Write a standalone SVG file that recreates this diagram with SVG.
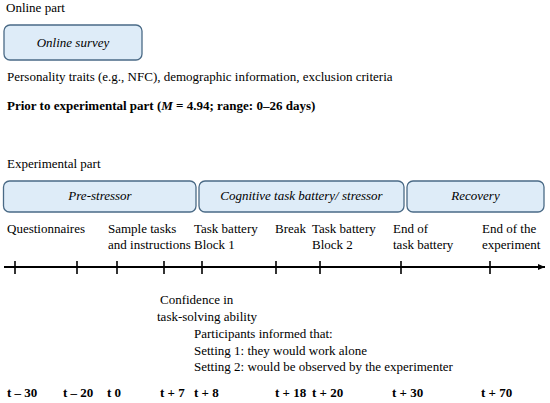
<svg xmlns="http://www.w3.org/2000/svg" width="550" height="403" viewBox="0 0 550 403" font-family="'Liberation Serif', 'Times New Roman', Times, 'DejaVu Serif', serif" font-size="13">
<defs>
<style>
text{font-family:'Liberation Serif','Times New Roman',Times,'DejaVu Serif',serif;font-size:13px;fill:#000}
.b{font-weight:bold}
.i{font-style:italic}
.c{text-anchor:middle}
.box{fill:#deecf8;stroke:#4a6a86;stroke-width:1.3}
.tick{stroke:#000;stroke-width:1.6}
</style>
<marker id="arr" markerWidth="8" markerHeight="8" refX="7" refY="4" orient="auto" markerUnits="userSpaceOnUse">
<path d="M0,1 L7,4 L0,7 Z" fill="#000"/>
</marker>
</defs>
<rect width="550" height="403" fill="#fff"/>
<text x="6" y="12">Online part</text>
<g id="online-survey">
<rect class="box" x="4" y="25" width="138" height="35" rx="6"/>
<text class="i c" x="73" y="47">Online survey</text>
</g>
<text x="7" y="81">Personality traits (e.g., NFC), demographic information, exclusion criteria</text>
<text class="b" x="7" y="110">Prior to experimental part (<tspan class="i">M</tspan> = 4.94; range: 0–26 days)</text>
<text x="7" y="168">Experimental part</text>
<g id="pre-stressor">
<rect class="box" x="3.5" y="181" width="192.5" height="31" rx="6"/>
<text class="i c" x="100" y="200">Pre-stressor</text>
</g>
<g id="cognitive">
<rect class="box" x="199" y="181" width="205" height="31" rx="6"/>
<text class="i c" x="301.5" y="200">Cognitive task battery/ stressor</text>
</g>
<g id="recovery">
<rect class="box" x="407" y="181" width="137" height="31" rx="6"/>
<text class="i c" x="475.5" y="200">Recovery</text>
</g>
<g id="event-labels">
<text x="7" y="233">Questionnaires</text>
<text x="108" y="233">Sample tasks</text>
<text x="108" y="249">and instructions</text>
<text x="194" y="233">Task battery</text>
<text x="194" y="249">Block 1</text>
<text x="275" y="233">Break</text>
<text x="312" y="233">Task battery</text>
<text x="312" y="249">Block 2</text>
<text x="393" y="233">End of</text>
<text x="393" y="249">task battery</text>
<text x="482" y="233">End of the</text>
<text x="482" y="249">experiment</text>
</g>
<g id="connectors">
<line x1="4" y1="267" x2="545" y2="267" stroke="#000" stroke-width="2" marker-end="url(#arr)"/>
<line class="tick" x1="15" y1="261" x2="15" y2="274"/>
<line class="tick" x1="77" y1="261" x2="77" y2="274"/>
<line class="tick" x1="117" y1="261" x2="117" y2="274"/>
<line class="tick" x1="164" y1="261" x2="164" y2="274"/>
<line class="tick" x1="202" y1="261" x2="202" y2="274"/>
<line class="tick" x1="276" y1="261" x2="276" y2="274"/>
<line class="tick" x1="320" y1="261" x2="320" y2="274"/>
<line class="tick" x1="401" y1="261" x2="401" y2="274"/>
<line class="tick" x1="490" y1="261" x2="490" y2="274"/>
</g>
<g id="notes">
<text x="160" y="304">Confidence in</text>
<text x="157" y="321">task-solving ability</text>
<text x="194" y="338">Participants informed that:</text>
<text x="194" y="355">Setting 1: they would work alone</text>
<text x="194" y="371">Setting 2: would be observed by the experimenter</text>
</g>
<g id="time-labels">
<text class="b" x="7" y="397">t – 30</text>
<text class="b" x="63" y="397">t – 20</text>
<text class="b" x="107" y="397">t 0</text>
<text class="b" x="160" y="397">t + 7</text>
<text class="b" x="194" y="397">t + 8</text>
<text class="b" x="275" y="397">t + 18</text>
<text class="b" x="312" y="397">t + 20</text>
<text class="b" x="392" y="397">t + 30</text>
<text class="b" x="481" y="397">t + 70</text>
</g>
</svg>
